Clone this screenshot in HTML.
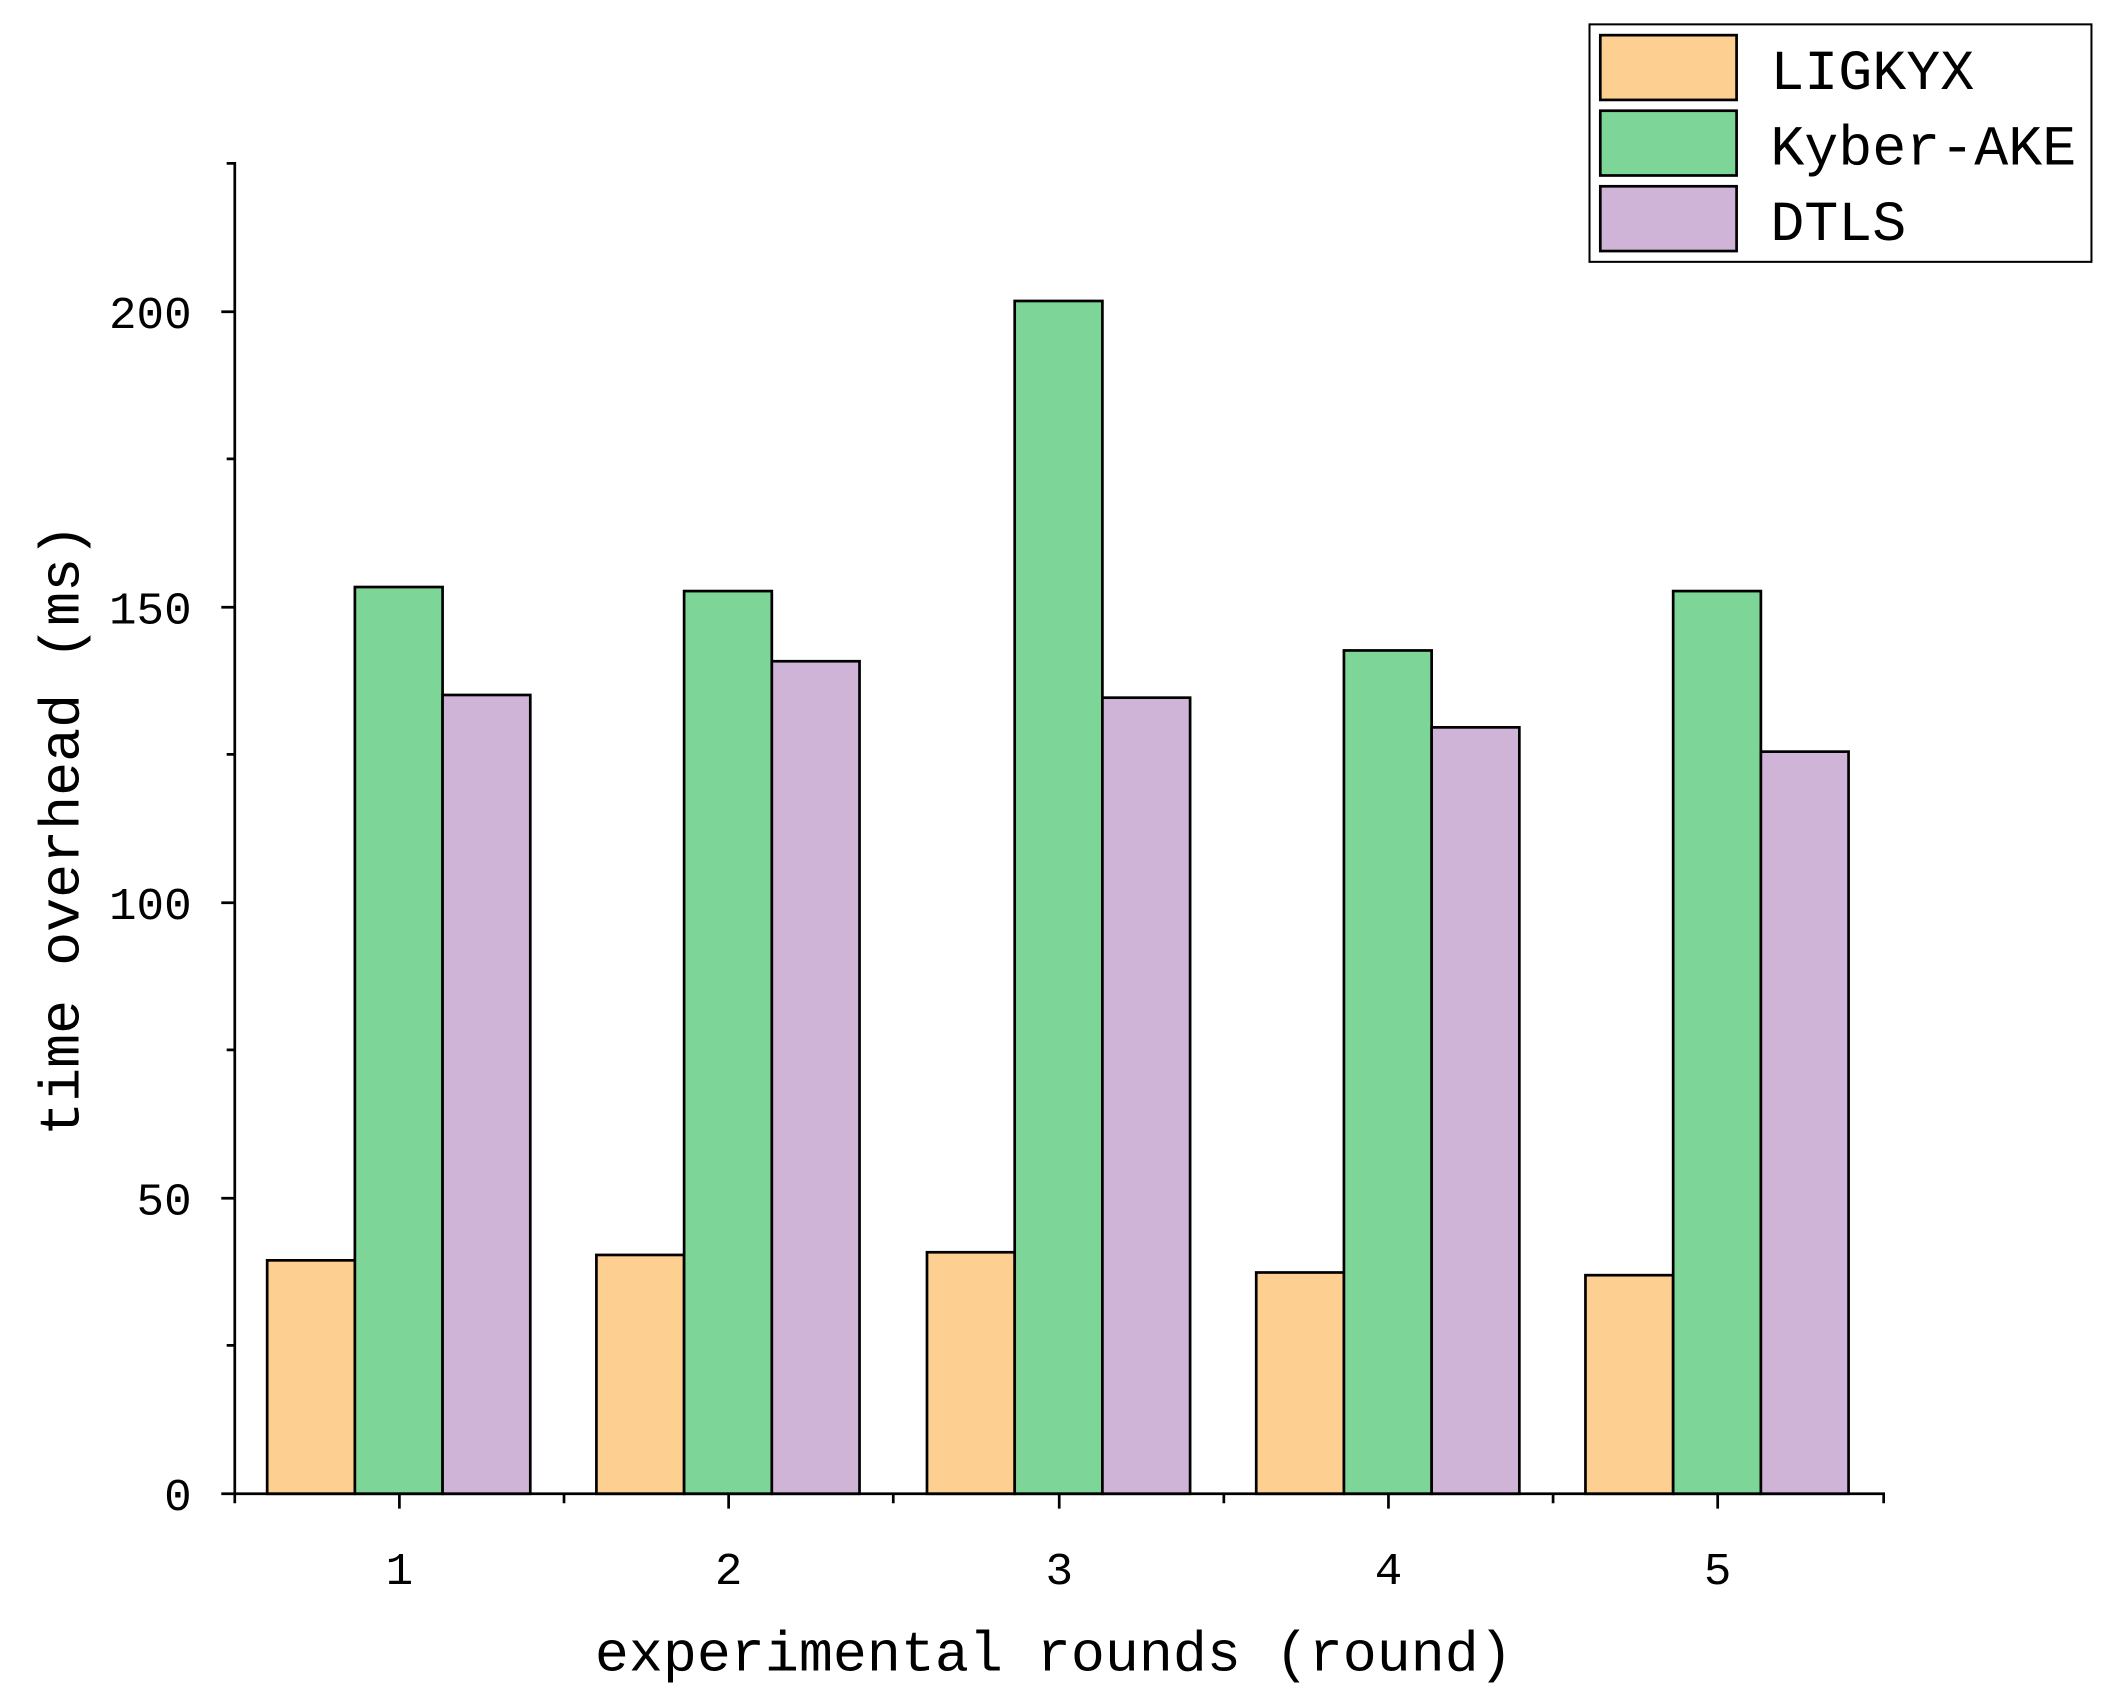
<!DOCTYPE html>
<html><head><meta charset="utf-8"><style>html,body{margin:0;padding:0;background:#fff}svg{display:block}</style></head>
<body>
<svg width="2109" height="1703" viewBox="0 0 1563 1262" xmlns="http://www.w3.org/2000/svg" font-family="'Liberation Mono','Noto Serif CJK SC',monospace" fill="#000">
<rect width="1563" height="1262" fill="#fff"/>
<g stroke="#000" stroke-width="2">
<rect x="198" y="934" width="65" height="173" fill="#fdcf90"/>
<rect x="263" y="435" width="65" height="672" fill="#7dd597"/>
<rect x="328" y="515" width="65" height="592" fill="#cfb4d8"/>
<rect x="442" y="930" width="65" height="177" fill="#fdcf90"/>
<rect x="507" y="438" width="65" height="669" fill="#7dd597"/>
<rect x="572" y="490" width="65" height="617" fill="#cfb4d8"/>
<rect x="687" y="928" width="65" height="179" fill="#fdcf90"/>
<rect x="752" y="223" width="65" height="884" fill="#7dd597"/>
<rect x="817" y="517" width="65" height="590" fill="#cfb4d8"/>
<rect x="931" y="943" width="65" height="164" fill="#fdcf90"/>
<rect x="996" y="482" width="65" height="625" fill="#7dd597"/>
<rect x="1061" y="539" width="65" height="568" fill="#cfb4d8"/>
<rect x="1175" y="945" width="65" height="162" fill="#fdcf90"/>
<rect x="1240" y="438" width="65" height="669" fill="#7dd597"/>
<rect x="1305" y="557" width="65" height="550" fill="#cfb4d8"/>
<line x1="174" y1="120" x2="174" y2="1108"/>
<line x1="173" y1="1107" x2="1397" y2="1107"/>
<path d="M164 1107H174M164 888H174M164 669H174M164 450H174M164 231H174M168 997H174M168 778H174M168 559H174M168 340H174M168 121H174"/>
<path d="M296 1107V1118M540 1107V1118M785 1107V1118M1029 1107V1118M1273 1107V1118M174 1107V1114M418 1107V1114M662 1107V1114M907 1107V1114M1151 1107V1114M1396 1107V1114"/>
<rect x="1178" y="18" width="372" height="176" fill="#fff" stroke-width="1.5"/>
<rect x="1186" y="26" width="101" height="48" fill="#fdcf90"/>
<rect x="1186" y="82" width="101" height="48" fill="#7dd597"/>
<rect x="1186" y="138" width="101" height="48" fill="#cfb4d8"/>
</g>
<g font-size="42">
<text x="1312" y="66">LIGKYX</text>
<text x="1312" y="122">Kyber-AKE</text>
<text x="1312" y="178">DTLS</text>
</g>
<g font-size="34" text-anchor="end">
<text x="142" y="1119">0</text>
<text x="142" y="900">50</text>
<text x="142" y="681">100</text>
<text x="142" y="462">150</text>
<text x="142" y="243">200</text>
</g>
<g font-size="34" text-anchor="middle">
<text x="296" y="1174">1</text>
<text x="540" y="1174">2</text>
<text x="785" y="1174">3</text>
<text x="1029" y="1174">4</text>
<text x="1273" y="1174">5</text>
</g>
<text x="781" y="1238" font-size="42" text-anchor="middle">experimental rounds (round)</text>
<text transform="translate(58,615) rotate(-90)" font-size="42" text-anchor="middle">time overhead (ms)</text>
</svg>
</body></html>
